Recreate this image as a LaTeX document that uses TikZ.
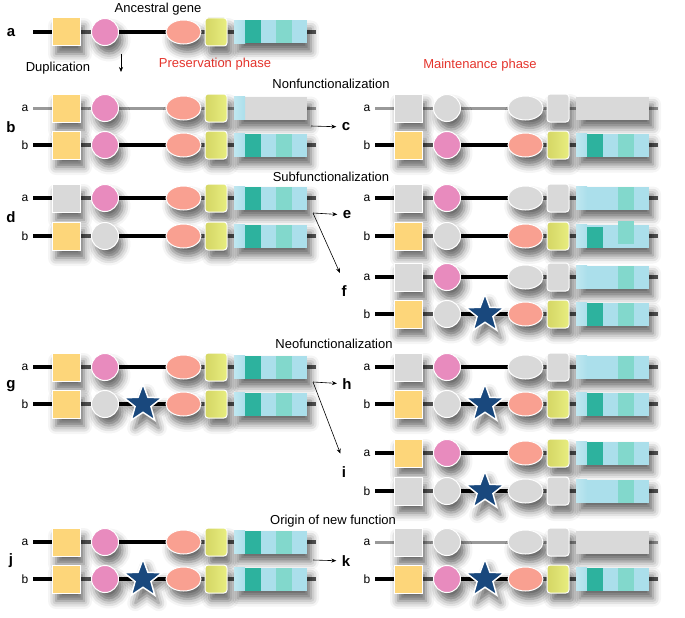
\documentclass[tikz,border=0pt]{standalone}
\usepackage{fontspec}
\setmainfont{Liberation Sans}
\usetikzlibrary{shapes.geometric,shadows.blur,arrows.meta}

\definecolor{sqyel}{RGB}{253,214,122}
\definecolor{cipink}{RGB}{232,139,190}
\definecolor{elsalm}{RGB}{249,160,145}
\definecolor{roylw}{RGB}{232,237,128}
\definecolor{rodark}{RGB}{212,214,100}
\definecolor{blkblue}{RGB}{171,223,235}
\definecolor{tealdk}{RGB}{45,178,158}
\definecolor{teallt}{RGB}{130,216,204}
\definecolor{offgrey}{RGB}{217,217,217}
\definecolor{phasered}{RGB}{228,52,44}
\definecolor{starblue}{RGB}{25,72,125}

\tikzset{
  shad/.style={blur shadow={shadow xshift=4pt,shadow yshift=-8pt,shadow blur radius=8pt,shadow opacity=60}},
  elem/.style={shad,draw=white,line width=1pt},
  sqon/.style={fill=sqyel},
  cion/.style={fill=cipink},
  elon/.style={fill=elsalm},
  roon/.style={left color=rodark,right color=roylw},
  off/.style={fill=offgrey},
  fnline/.style={line width=4.5pt,black},
  gapline/.style={line width=4.5pt,black!65},
  nfline/.style={line width=3pt,black!40},
  mstar/.style={star,star points=5,star point ratio=2.4,minimum size=40pt,inner sep=0pt,
    fill=starblue,draw=white,line width=1.5pt,shad},
  rowlbl/.style={font=\fontsize{12}{14}\selectfont},
  panel/.style={font=\fontsize{15}{17}\selectfont\bfseries},
  head/.style={font=\fontsize{13}{15}\selectfont},
  phase/.style={font=\fontsize{13}{15}\selectfont,text=phasered},
  arr/.style={-{Stealth[length=5pt,width=4pt]},line width=0.6pt}
}

% gene lines
\newcommand{\lnfun}{\draw[fnline] (-19,0) -- (264,0);
  \foreach \a/\b in {28/40,149/153,175/182,255/264} \draw[gapline] (\a,0) -- (\b,0);}
\newcommand{\lnoff}{\draw[nfline] (-19,0) -- (264,0);}

% coding blocks
\newcommand{\blkfull}{%
  \fill[shad,blkblue] (182,-11.5) rectangle (255,11.5);
  \fill[left color=blkblue!75!white,right color=blkblue] (182,-11.5) rectangle (193,11.5);
  \fill[tealdk] (193,-11.5) rectangle (209,11.5);
  \fill[teallt] (224,-11.5) rectangle (240,11.5);}
\newcommand{\blkpart}{%
  \fill[shad,blkblue] (182,-11.5) rectangle (255,11.5);
  \fill[left color=blkblue!75!white,right color=blkblue] (182,-11.5) rectangle (193,11.5);
  \fill[teallt] (224,-11.5) rectangle (240,11.5);}
\newcommand{\blkshift}{%
  \fill[shad,blkblue] (182,-11.5) rectangle (255,11.5);
  \fill[left color=blkblue!75!white,right color=blkblue] (182,-11.5) rectangle (193,11.5);
  \fill[tealdk] (193,-9) rectangle (209,11.5);
  \fill[teallt] (224,-15) rectangle (240,7.5);}
\newcommand{\blkpseudo}{%
  \fill[shad,offgrey] (182,-11.5) rectangle (255,11.5);
  \fill[left color=blkblue!75!white,right color=blkblue] (182,-11.5) rectangle (193,11.5);}
\newcommand{\blkoff}{\fill[shad,offgrey] (182,-11.5) rectangle (255,11.5);}
\newcommand{\mutstar}{\node[mstar] (mut) at (91,0) {};}

% one gene: origin, line, square, circle, ellipse, rounded box, block, mutation
\newcommand{\generow}[9]{%
  \begin{scope}[shift={(#1,#2)}]
    #3
    \filldraw[elem,#4] (0,-14) rectangle (28,14);
    \filldraw[elem,#5] (53,0) circle (13.5);
    #9
    \filldraw[elem,#6] (131.5,0) ellipse (17.5 and 12);
    \filldraw[elem,#7,rounded corners=3pt] (153,-14) rectangle (175,14);
    #8
  \end{scope}}

\begin{document}
\begin{tikzpicture}[x=1pt,y=-1pt]
\useasboundingbox (0,0) rectangle (685,618);

% headings
\node[head] (anc) at (158,9) {Ancestral gene};
\node[head] (dup) at (58,68) {Duplication};
\node[phase] (pres) at (215,64) {Preservation phase};
\node[phase] (maint) at (480,65) {Maintenance phase};
\node[head] (nonf) at (331,84) {Nonfunctionalization};
\node[head] (subf) at (331,177) {Subfunctionalization};
\node[head] (neof) at (334,344) {Neofunctionalization};
\node[head] (orig) at (333,521) {Origin of new function};

% panel letters
\node[panel] (pa) at (11,33) {a};
\node[panel] (pb) at (11,127) {b};
\node[panel] (pd) at (11,217) {d};
\node[panel] (pg) at (11,386) {g};
\node[panel] (pj) at (11,561) {j};
\node[panel] (pc) at (346,127) {c};
\node[panel] (pe) at (347,215) {e};
\node[panel] (pf) at (344,291) {f};
\node[panel] (ph) at (347,384) {h};
\node[panel] (pi) at (344,472) {i};
\node[panel] (pk) at (346,561) {k};

% copy labels
\foreach \y/\t in {108/a,145/b,198/a,236/b,367/a,404/b,542/a,579/b}
  \node[rowlbl] at (25,\y) {\t};
\foreach \y/\t in {108/a,145/b,198/a,236/b,277/a,314/b,367/a,404/b,453/a,491/b,542/a,579/b}
  \node[rowlbl] at (367,\y) {\t};

% a
\generow{52}{32}{\lnfun}{sqon}{cion}{elon}{roon}{\blkfull}{}
% b
\generow{52}{108}{\lnoff}{sqon}{cion}{elon}{roon}{\blkpseudo}{}
\generow{52}{145}{\lnfun}{sqon}{cion}{elon}{roon}{\blkfull}{}
% c
\generow{394}{108}{\lnoff}{off}{off}{off}{off}{\blkoff}{}
\generow{394}{145}{\lnfun}{sqon}{cion}{elon}{roon}{\blkfull}{}
% d
\generow{52}{198}{\lnfun}{off}{cion}{elon}{roon}{\blkfull}{}
\generow{52}{236}{\lnfun}{sqon}{off}{elon}{roon}{\blkfull}{}
% e
\generow{394}{198}{\lnfun}{off}{cion}{off}{off}{\blkpart}{}
\generow{394}{236}{\lnfun}{sqon}{off}{elon}{roon}{\blkshift}{}
% f
\generow{394}{277}{\lnfun}{off}{cion}{off}{off}{\blkpart}{}
\generow{394}{314}{\lnfun}{sqon}{off}{elon}{roon}{\blkfull}{\mutstar}
% g
\generow{52}{367}{\lnfun}{sqon}{cion}{elon}{roon}{\blkfull}{}
\generow{52}{404}{\lnfun}{sqon}{off}{elon}{roon}{\blkfull}{\mutstar}
% h
\generow{394}{367}{\lnfun}{off}{cion}{off}{off}{\blkpart}{}
\generow{394}{404}{\lnfun}{sqon}{off}{elon}{roon}{\blkfull}{\mutstar}
% i
\generow{394}{453}{\lnfun}{sqon}{cion}{elon}{roon}{\blkfull}{}
\generow{394}{491}{\lnfun}{off}{off}{off}{off}{\blkpart}{\mutstar}
% j
\generow{52}{542}{\lnfun}{sqon}{cion}{elon}{roon}{\blkfull}{}
\generow{52}{579}{\lnfun}{sqon}{cion}{elon}{roon}{\blkfull}{\mutstar}
% k
\generow{394}{542}{\lnoff}{off}{off}{off}{off}{\blkoff}{}
\generow{394}{579}{\lnfun}{sqon}{cion}{elon}{roon}{\blkfull}{\mutstar}

% arrows
\coordinate (dupS) at (121,54);
\coordinate (dupE) at (121,72);
\coordinate (bout) at (311,126);
\coordinate (dout) at (313,213);
\coordinate (gout) at (313,382);
\coordinate (jout) at (313,560);
\draw[arr] (dupS) -- (dupE);
\draw[arr,shorten >=2pt] (bout) -- (pc);
\draw[arr,shorten >=2pt] (dout) -- (pe);
\draw[arr,shorten >=10pt] (dout) -- (pf.north);
\draw[arr,shorten >=2pt] (gout) -- (ph);
\draw[arr,shorten >=10pt] (gout) -- (pi.north);
\draw[arr,shorten >=2pt] (jout) -- (pk);
\end{tikzpicture}
\end{document}
